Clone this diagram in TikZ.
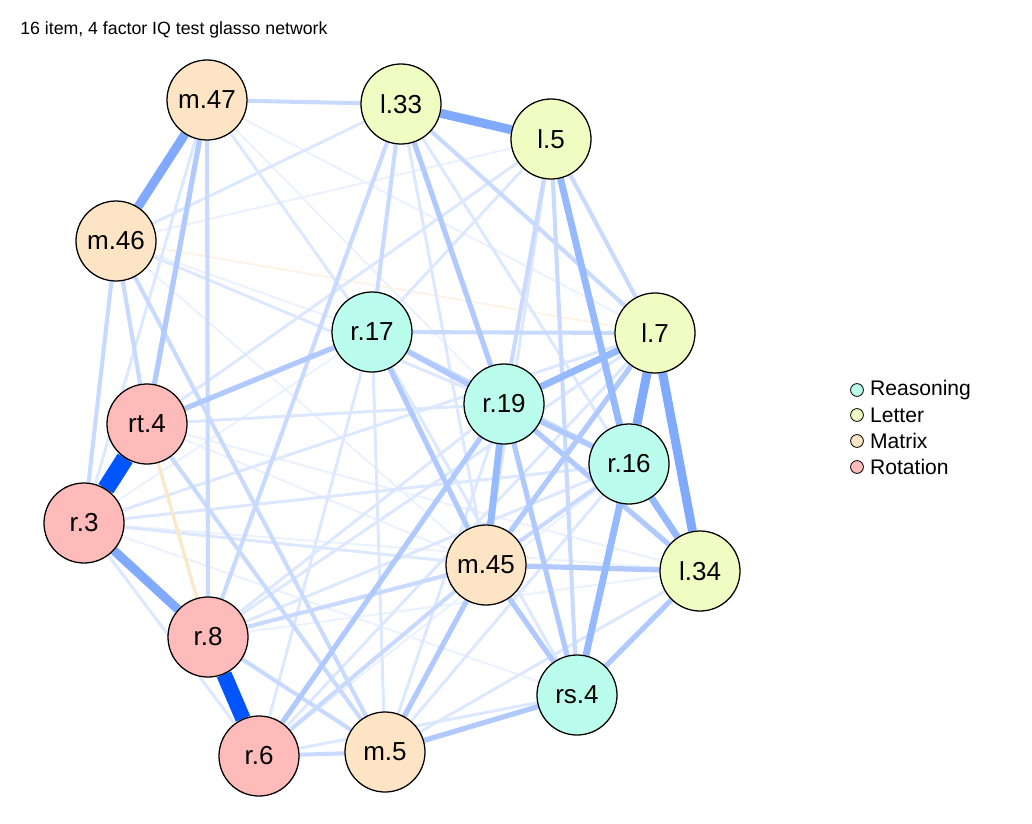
\documentclass[tikz,border=0pt]{standalone}
\usepackage{fontspec}
\setmainfont{Liberation Sans}
\usetikzlibrary{backgrounds,positioning}

\definecolor{reasoning}{HTML}{BBFDEC}
\definecolor{letter}{HTML}{F0FDC2}
\definecolor{matrix}{HTML}{FDE4C4}
\definecolor{rotation}{HTML}{FFBABA}

\begin{document}
\begin{tikzpicture}[x=0.025cm,y=-0.025cm,
  item/.style={draw,circle,line width=0.9pt,minimum size=2cm,inner sep=0pt,font=\fontsize{18.5}{20}\selectfont},
  key/.style={draw,circle,line width=0.6pt,minimum size=0.32cm,inner sep=0pt},
  keytext/.style={right=0.15cm of #1,inner sep=0pt,font=\fontsize{15}{16}\selectfont},
  eA/.style={line width=12.5pt,draw={rgb,255:red,0;green,85;blue,255}},
  eB/.style={line width=6.4pt,draw={rgb,255:red,128;green,170;blue,255}},
  eC/.style={line width=4.9pt,draw={rgb,255:red,150;green,186;blue,255}},
  eD/.style={line width=3.7pt,draw={rgb,255:red,176;green,202;blue,255}},
  eE/.style={line width=2.9pt,draw={rgb,255:red,200;green,218;blue,255}},
  eF/.style={line width=2.1pt,draw={rgb,255:red,220;green,232;blue,255}},
  eG/.style={line width=1.4pt,draw={rgb,255:red,234;green,241;blue,255}},
  neg/.style={line width=2.4pt,draw={rgb,255:red,251;green,232;blue,200}},
  negfaint/.style={line width=1.2pt,draw={rgb,255:red,253;green,241;blue,226}}]
  \useasboundingbox (0,0) rectangle (1032,823);

  \node[anchor=base west,inner sep=0pt,font=\fontsize{12.6}{14}\selectfont] (title) at (20,34) {16 item, 4 factor IQ test glasso network};

  % items
  \node[item,fill=matrix] (m47) at (207,100) {m.47};
  \node[item,fill=letter] (l33) at (401,104) {l.33};
  \node[item,fill=letter] (l5) at (551,139) {l.5};
  \node[item,fill=matrix] (m46) at (116,241) {m.46};
  \node[item,fill=reasoning] (r17) at (372,332) {r.17};
  \node[item,fill=letter] (l7) at (655,333) {l.7};
  \node[item,fill=reasoning] (r19) at (504,404) {r.19};
  \node[item,fill=rotation] (rt4) at (147,424) {rt.4};
  \node[item,fill=reasoning] (r16) at (629,464) {r.16};
  \node[item,fill=rotation] (r3) at (84,523) {r.3};
  \node[item,fill=matrix] (m45) at (486,565) {m.45};
  \node[item,fill=letter] (l34) at (700,571) {l.34};
  \node[item,fill=rotation] (r8) at (208,637) {r.8};
  \node[item,fill=reasoning] (rs4) at (577,695) {rs.4};
  \node[item,fill=rotation] (r6) at (259,756) {r.6};
  \node[item,fill=matrix] (m5) at (385,752) {m.5};

  % partial correlations, weakest first
  \begin{scope}[on background layer]
    \foreach \a/\b in {m47/l7,m47/r19,m46/r17,r3/rs4,r3/l34,rt4/m45,rt4/l34,r6/r16,r3/r17,r8/l34,m46/m45,l5/m46}
      \path[eG] (\a) edge (\b);
    \path[negfaint] (m46) edge (l7);
    \foreach \a/\b in {m46/l33,m47/r3,r3/m45,r3/r16,rt4/r19,r8/l7,r8/r19,m5/r19,m5/r16,m5/l34,r6/l7,r6/r17,m47/r17,l5/m45,l5/r17,l5/rt4,l33/m45,l33/r16,r17/rs4,r3/l7,r8/r16,r6/rs4,m5/r17,m46/r19,r3/r6}
      \path[eF] (\a) edge (\b);
    \foreach \a/\b in {m47/l33,m46/r3,r6/m5,r8/m5,l33/r17,r17/l7,l5/r19,l33/l7,m46/rt4,m47/r8,l33/r8,rt4/m5,m46/m5,r16/m45,r8/m45,l5/rs4,l5/l7,r6/m45,r17/r16}
      \path[eE] (\a) edge (\b);
    \path[neg] (rt4) edge (r8);
    \foreach \a/\b in {m45/rs4,r19/r16,m5/m45,m45/l34,rs4/l34,m5/rs4,l7/m45,r19/rs4,r17/r19,r17/m45,l33/r19,m47/rt4,rt4/r17,r6/r19,r19/l34}
      \path[eD] (\a) edge (\b);
    \foreach \a/\b in {r19/l7,r16/rs4,r16/l34,r19/m45,l5/r16}
      \path[eC] (\a) edge (\b);
    \foreach \a/\b in {l33/l5,m47/m46,r3/r8,l7/r16,l7/l34}
      \path[eB] (\a) edge (\b);
    \path[eA] (rt4) edge (r3);
    \path[eA,line width=11pt] (r8) edge (r6);
  \end{scope}

  % legend
  \node[key,fill=reasoning] (kreasoning) at (857,390) {};
  \node[key,fill=letter] (kletter) at (857,415) {};
  \node[key,fill=matrix] (kmatrix) at (857,441) {};
  \node[key,fill=rotation] (krotation) at (857,467) {};
  \node[keytext=kreasoning] (treasoning) {Reasoning};
  \node[keytext=kletter] (tletter) {Letter};
  \node[keytext=kmatrix] (tmatrix) {Matrix};
  \node[keytext=krotation] (trotation) {Rotation};
\end{tikzpicture}
\end{document}
